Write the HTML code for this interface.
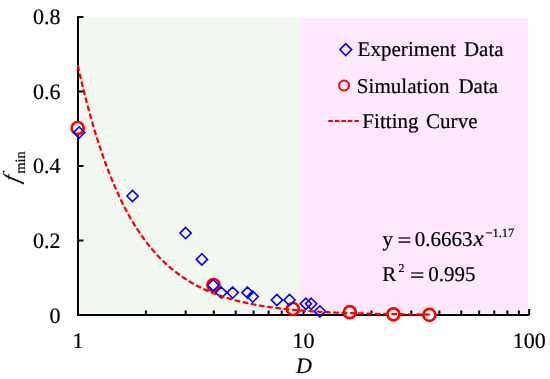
<!DOCTYPE html>
<html><head><meta charset="utf-8"><style>
html,body{margin:0;padding:0;background:#fff;}
svg{display:block;} text{text-rendering:geometricPrecision;}
</style></head><body>
<svg width="550" height="379" viewBox="0 0 550 379" style="font-family:'Liberation Serif','Times New Roman',serif;font-size:22px;fill:#000;stroke:#000;stroke-width:0.2px">
<g stroke="none"><rect width="550" height="379" fill="#fff"/>
<rect x="80" y="18" width="220.2" height="294.8" fill="#f2f7ef"/>
<rect x="300.2" y="18" width="228" height="294.8" fill="#fde8fe"/>
<path d="M78,16V315H529.2" fill="none" stroke="#000" stroke-width="2"/>
<path d="M78,240.50H83.5 M78,166.00H83.5 M78,91.50H83.5 M78,17.00H83.5 M145.91,315V310.5 M185.64,315V310.5 M213.82,315V310.5 M235.69,315V310.5 M253.55,315V310.5 M268.65,315V310.5 M281.74,315V310.5 M293.28,315V310.5 M303.60,315V310.5 M371.51,315V310.5 M411.24,315V310.5 M439.42,315V310.5 M461.29,315V310.5 M479.15,315V310.5 M494.25,315V310.5 M507.34,315V310.5 M518.88,315V310.5 M529.20,315V309" fill="none" stroke="#000" stroke-width="2"/>
<g fill="#fff" stroke="#ff0000" stroke-width="2.7"><circle cx="77.7" cy="128" r="6.0"/><circle cx="213.5" cy="285" r="6.0"/><circle cx="292.9" cy="309" r="6.0"/><circle cx="349.85" cy="312.2" r="6.0"/><circle cx="393.45" cy="314.3" r="6.0"/><circle cx="429.4" cy="314.9" r="6.0"/></g>
<path fill="none" stroke="#0000ff" stroke-width="1.6" d="M79.1,126.9L84.7,132.5L79.1,138.1L73.5,132.5ZM132.5,190.4L138.1,196L132.5,201.6L126.9,196ZM185.6,227.5L191.2,233.1L185.6,238.7L180,233.1ZM201.9,253.8L207.5,259.4L201.9,265L196.3,259.4ZM213.2,279.7L218.8,285.3L213.2,290.9L207.6,285.3ZM221.3,287L226.9,292.6L221.3,298.2L215.7,292.6ZM232.7,287L238.3,292.6L232.7,298.2L227.1,292.6ZM247.5,287L253.1,292.6L247.5,298.2L241.9,292.6ZM252.7,291L258.3,296.6L252.7,302.2L247.1,296.6ZM276.9,294.4L282.5,300L276.9,305.6L271.3,300ZM289.5,294.4L295.1,300L289.5,305.6L283.9,300ZM305.8,298.2L311.4,303.8L305.8,309.4L300.2,303.8ZM311.2,298.2L316.8,303.8L311.2,309.4L305.6,303.8ZM319.9,305.8L325.5,311.4L319.9,317L314.3,311.4Z"/>
<polyline points="78.00,66.21 79.17,71.39 80.34,76.46 81.51,81.42 82.68,86.29 83.85,91.05 85.02,95.71 86.19,100.28 87.36,104.75 88.53,109.12 89.70,113.41 90.87,117.61 92.04,121.71 93.21,125.74 94.38,129.68 95.56,133.54 96.73,137.31 97.90,141.01 99.07,144.64 100.24,148.18 101.41,151.65 102.58,155.06 103.75,158.38 104.92,161.65 106.09,164.84 107.26,167.96 108.43,171.02 109.60,174.02 110.77,176.96 111.94,179.83 113.11,182.64 114.28,185.40 115.45,188.10 116.62,190.74 117.79,193.33 118.96,195.86 120.13,198.34 121.30,200.77 122.47,203.15 123.64,205.48 124.81,207.76 125.98,209.99 127.15,212.17 128.32,214.31 129.49,216.41 130.67,218.46 131.84,220.47 133.01,222.44 134.18,224.37 135.35,226.25 136.52,228.10 137.69,229.91 138.86,231.68 140.03,233.42 141.20,235.12 142.37,236.78 143.54,238.41 144.71,240.00 145.88,241.56 147.05,243.09 148.22,244.59 149.39,246.05 150.56,247.49 151.73,248.89 152.90,250.27 154.07,251.62 155.24,252.94 156.41,254.23 157.58,255.49 158.75,256.73 159.92,257.95 161.09,259.13 162.26,260.30 163.43,261.44 164.61,262.55 165.78,263.64 166.95,264.71 168.12,265.76 169.29,266.78 170.46,267.79 171.63,268.77 172.80,269.73 173.97,270.68 175.14,271.60 176.31,272.50 177.48,273.39 178.65,274.25 179.82,275.10 180.99,275.93 182.16,276.75 183.33,277.54 184.50,278.32 185.67,279.08 186.84,279.83 188.01,280.56 189.18,281.28 190.35,281.98 191.52,282.67 192.69,283.34 193.86,284.00 195.03,284.65 196.20,285.28 197.37,285.90 198.54,286.50 199.72,287.10 200.89,287.68 202.06,288.25 203.23,288.80 204.40,289.35 205.57,289.88 206.74,290.41 207.91,290.92 209.08,291.42 210.25,291.91 211.42,292.39 212.59,292.86 213.76,293.32 214.93,293.77 216.10,294.22 217.27,294.65 218.44,295.07 219.61,295.49 220.78,295.89 221.95,296.29 223.12,296.68 224.29,297.06 225.46,297.44 226.63,297.80 227.80,298.16 228.97,298.51 230.14,298.85 231.31,299.19 232.48,299.52 233.66,299.84 234.83,300.16 236.00,300.47 237.17,300.77 238.34,301.06 239.51,301.35 240.68,301.64 241.85,301.92 243.02,302.19 244.19,302.46 245.36,302.72 246.53,302.97 247.70,303.22 248.87,303.47 250.04,303.71 251.21,303.94 252.38,304.17 253.55,304.40 254.72,304.62 255.89,304.84 257.06,305.05 258.23,305.25 259.40,305.46 260.57,305.66 261.74,305.85 262.91,306.04 264.08,306.23 265.25,306.41 266.42,306.59 267.59,306.76 268.77,306.94 269.94,307.10 271.11,307.27 272.28,307.43 273.45,307.59 274.62,307.74 275.79,307.89 276.96,308.04 278.13,308.18 279.30,308.33 280.47,308.47 281.64,308.60 282.81,308.73 283.98,308.87 285.15,308.99 286.32,309.12 287.49,309.24 288.66,309.36 289.83,309.48 291.00,309.59 292.17,309.71 293.34,309.82 294.51,309.92 295.68,310.03 296.85,310.13 298.02,310.23 299.19,310.33 300.36,310.43 301.53,310.53 302.71,310.62 303.88,310.71 305.05,310.80 306.22,310.89 307.39,310.97 308.56,311.06 309.73,311.14 310.90,311.22 312.07,311.30 313.24,311.37 314.41,311.45 315.58,311.52 316.75,311.60 317.92,311.67 319.09,311.74 320.26,311.80 321.43,311.87 322.60,311.94 323.77,312.00 324.94,312.06 326.11,312.12 327.28,312.18 328.45,312.24 329.62,312.30 330.79,312.36 331.96,312.41 333.13,312.46 334.30,312.52 335.47,312.57 336.65,312.62 337.82,312.67 338.99,312.72 340.16,312.77 341.33,312.81 342.50,312.86 343.67,312.90 344.84,312.95 346.01,312.99 347.18,313.03 348.35,313.07 349.52,313.11 350.69,313.15 351.86,313.19 353.03,313.23 354.20,313.26 355.37,313.30 356.54,313.34 357.71,313.37 358.88,313.40 360.05,313.44 361.22,313.47 362.39,313.50 363.56,313.53 364.73,313.56 365.90,313.59 367.07,313.62 368.24,313.65 369.41,313.68 370.58,313.71 371.76,313.73 372.93,313.76 374.10,313.79 375.27,313.81 376.44,313.84 377.61,313.86 378.78,313.88 379.95,313.91 381.12,313.93 382.29,313.95 383.46,313.97 384.63,314.00 385.80,314.02 386.97,314.04 388.14,314.06 389.31,314.08 390.48,314.10 391.65,314.11 392.82,314.13 393.99,314.15 395.16,314.17 396.33,314.19 397.50,314.20 398.67,314.22 399.84,314.24 401.01,314.25 402.18,314.27 403.35,314.28 404.52,314.30 405.70,314.31 406.87,314.33 408.04,314.34 409.21,314.35 410.38,314.37 411.55,314.38 412.72,314.39 413.89,314.41 415.06,314.42 416.23,314.43 417.40,314.44 418.57,314.45 419.74,314.47 420.91,314.48 422.08,314.49 423.25,314.50 424.42,314.51 425.59,314.52 426.76,314.53 427.93,314.54 429.10,314.55" fill="none" stroke="#ff0000" stroke-width="2.3" stroke-linecap="round" stroke-dasharray="3.8 4.5"/>
</g>
<path d="M345.7,43.6L351.6,49.6L345.7,55.6L339.8,49.6Z" fill="none" stroke="#0000ff" stroke-width="1.6"/>
<circle cx="344.05" cy="85.5" r="4.95" fill="none" stroke="#ff0000" stroke-width="2.1"/>
<path d="M328.3,121H359" stroke="#ff0000" stroke-width="1.8" stroke-dasharray="4.6 1.9"/>
<g font-size="21" letter-spacing="0.05">
<text x="357.5" y="55.6">Experiment</text><text x="463.9" y="55.6">Data</text>
<text x="356.8" y="92.8">Simulation</text><text x="458.4" y="92.8">Data</text>
<text x="362.3" y="127.9">Fitting</text><text x="426.0" y="127.9">Curve</text>
</g>
<g font-size="21">
<text x="382.6" y="245.7">y</text>
<text x="397.5" y="247.2" textLength="13.9" lengthAdjust="spacingAndGlyphs">=</text>
<text x="414.8" y="245.7">0.6663</text>
<text x="473.4" y="245.7" font-style="italic" font-size="23">x</text>
<text x="485.4" y="236.8" font-size="12.5">−1.17</text>
<text x="382.3" y="280.6">R</text>
<text x="398.5" y="271.5" font-size="12">2</text>
<text x="410.0" y="282.1" textLength="14.4" lengthAdjust="spacingAndGlyphs">=</text>
<text x="428.2" y="280.6">0.995</text>
</g>
<text x="60.4" y="322.94" text-anchor="end">0</text><text x="60.4" y="248.18" text-anchor="end">0.2</text><text x="60.4" y="173.42" text-anchor="end">0.4</text><text x="60.4" y="98.66" text-anchor="end">0.6</text><text x="60.4" y="23.90" text-anchor="end">0.8</text><text x="78.00" y="348" text-anchor="middle">1</text><text x="303.60" y="348" text-anchor="middle">10</text><text x="529.20" y="348" text-anchor="middle">100</text><text x="304" y="373" text-anchor="middle" font-style="italic">D</text><text transform="translate(18.8,183.6) rotate(-90) skewX(-14)" font-style="italic" font-size="23" stroke-width="0">f</text><text transform="translate(24.7,173.6) rotate(-90)" font-size="14.2">min</text>
</svg>
</body></html>
